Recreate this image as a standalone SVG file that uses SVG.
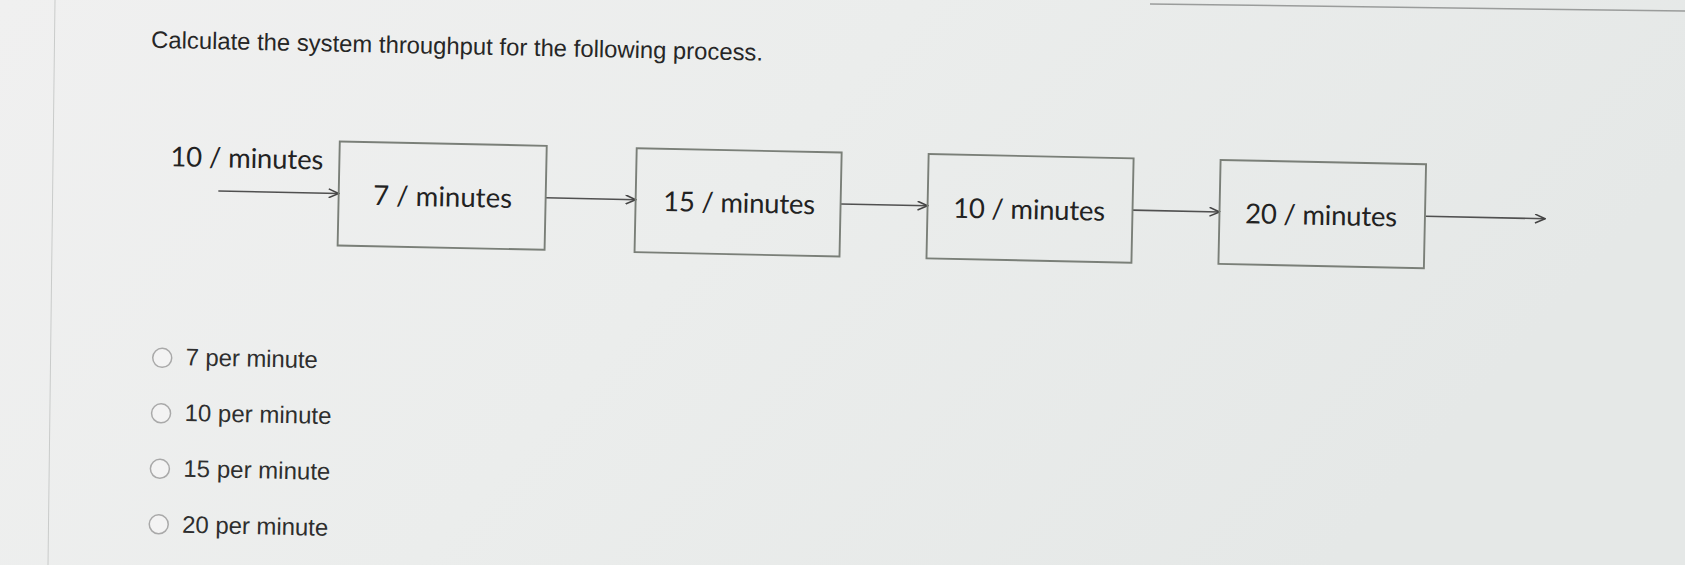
<svg xmlns="http://www.w3.org/2000/svg" width="1685" height="565" viewBox="0 0 1685 565">
  <defs>
    <linearGradient id="bg" x1="0" y1="0" x2="1" y2="0.3">
      <stop offset="0" stop-color="#f0f0f0"/>
      <stop offset="0.5" stop-color="#ebedec"/>
      <stop offset="1" stop-color="#e5e8e7"/>
    </linearGradient>
    <marker id="arr" viewBox="0 0 12 10" refX="11" refY="5" markerWidth="12" markerHeight="10" orient="auto" markerUnits="userSpaceOnUse">
      <path d="M1,0.6 L11,5 L1,9.4" fill="none" stroke="#444444" stroke-width="1.6"/>
    </marker>
    <style>
      .box { fill: none; stroke: #7a7f78; stroke-width: 1.9; }
      .lbl { font-family: Lato, "Open Sans", sans-serif; font-size: 27.5px; fill: #222222; }
      .q { font-family: "Liberation Sans", Arial, sans-serif; fill: #262626; }
      .opt { font-family: "Liberation Sans", Arial, sans-serif; font-size: 24px; fill: #2e2e2e; }
      .radio { fill: #f3f3f3; stroke: #a9a9a9; stroke-width: 1.5; }
      .conn { stroke: #505050; stroke-width: 1.6; fill: none; marker-end: url(#arr); }
    </style>
  </defs>
  <rect x="0" y="0" width="1685" height="565" fill="url(#bg)"/>
  <line x1="1150" y1="4" x2="1685" y2="11" stroke="#9a9c9b" stroke-width="1.5"/>
  <line x1="55" y1="0" x2="48" y2="565" stroke="#c9cbca" stroke-width="1"/>

  <g transform="rotate(1.2 840 280)">
    <text id="question" class="q" x="146.3" y="62.3" font-size="23.8" textLength="612" lengthAdjust="spacing">Calculate the system throughput for the following process.</text>

    <g id="input-label">
      <text class="lbl" x="168" y="180.3" textLength="153" lengthAdjust="spacing">10 / minutes</text>
    </g>

    <g id="connectors">
      <line class="conn" x1="216.6" y1="204" x2="337" y2="204"/>
      <line class="conn" x1="544" y1="204" x2="634" y2="204"/>
      <line class="conn" x1="839" y1="204" x2="926" y2="204"/>
      <line class="conn" x1="1131" y1="204" x2="1218" y2="204"/>
      <line class="conn" x1="1424" y1="204" x2="1543.6" y2="204"/>
    </g>

    <g id="step1">
      <rect class="box" x="337" y="152" width="207" height="104"/>
      <text class="lbl" x="371.5" y="214.8" textLength="139" lengthAdjust="spacing">7 / minutes</text>
    </g>
    <g id="step2">
      <rect class="box" x="634" y="152.5" width="205" height="104"/>
      <text class="lbl" x="661.6" y="214.7" textLength="152" lengthAdjust="spacing">15 / minutes</text>
    </g>
    <g id="step3">
      <rect class="box" x="926" y="152.2" width="205" height="104.4"/>
      <text class="lbl" x="951.7" y="215.3" textLength="152" lengthAdjust="spacing">10 / minutes</text>
    </g>
    <g id="step4">
      <rect class="box" x="1218" y="152" width="205.5" height="104"/>
      <text class="lbl" x="1243.7" y="214.8" textLength="152" lengthAdjust="spacing">20 / minutes</text>
    </g>

    <g id="option1">
      <circle class="radio" cx="164" cy="372" r="9.5"/>
      <text class="opt" x="187.5" y="379" textLength="132" lengthAdjust="spacing">7 per minute</text>
    </g>
    <g id="option2">
      <circle class="radio" cx="164" cy="427.5" r="9.5"/>
      <text class="opt" x="187.5" y="434.7" textLength="147" lengthAdjust="spacing">10 per minute</text>
    </g>
    <g id="option3">
      <circle class="radio" cx="164" cy="483" r="9.5"/>
      <text class="opt" x="187.5" y="490.5" textLength="147" lengthAdjust="spacing">15 per minute</text>
    </g>
    <g id="option4">
      <circle class="radio" cx="164" cy="538.5" r="9.5"/>
      <text class="opt" x="187.5" y="546.5" textLength="146" lengthAdjust="spacing">20 per minute</text>
    </g>
  </g>
</svg>
